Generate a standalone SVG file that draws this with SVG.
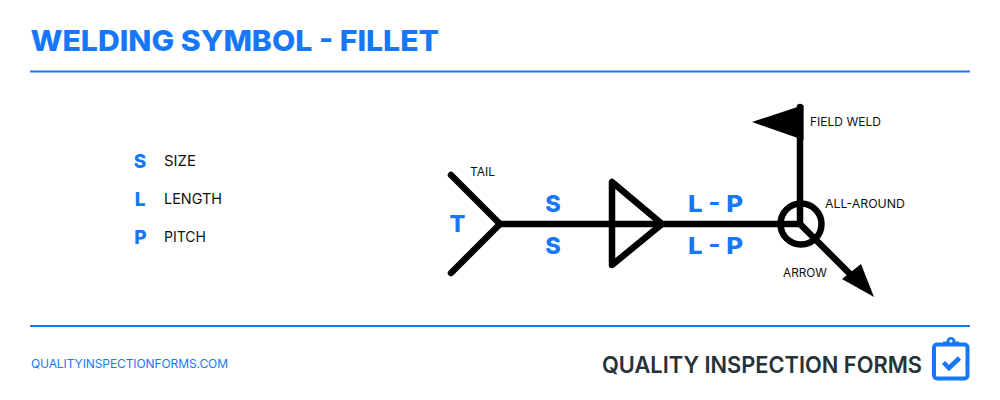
<svg xmlns="http://www.w3.org/2000/svg" width="1000" height="400" viewBox="0 0 1000 400">
<style>
text{font-family:Inter,Roboto,"Liberation Sans",sans-serif}
.rule{stroke:#1777f9;stroke-width:2;fill:none}
.sym{stroke:#000;stroke-width:6.500;fill:none;stroke-linecap:round;stroke-linejoin:round}
.val{fill:#1777f9;font-weight:800;font-size:23.500px;text-anchor:middle}
.key{fill:#1777f9;font-weight:800;font-size:19px;text-anchor:middle}
.desc{fill:#111;font-size:14px}
.lab{fill:#111;font-size:12px}
</style>
<rect width="1000" height="400" fill="#fff"/>
<g id="header">
<text x="30.500" y="50.500" font-size="29" font-weight="800" fill="#1777f9" textLength="408.500" lengthAdjust="spacingAndGlyphs">WELDING SYMBOL - FILLET</text>
<line class="rule" x1="30" y1="71.500" x2="970" y2="71.500"/>
</g>
<g id="legend">
<text class="key" x="140" y="168">S</text><text class="desc" x="164" y="166" textLength="32" lengthAdjust="spacingAndGlyphs">SIZE</text>
<text class="key" x="140" y="206">L</text><text class="desc" x="164" y="204" textLength="58" lengthAdjust="spacingAndGlyphs">LENGTH</text>
<text class="key" x="140.500" y="244">P</text><text class="desc" x="164" y="242" textLength="42" lengthAdjust="spacingAndGlyphs">PITCH</text>
</g>
<g id="connectors">
<path class="sym" d="M451 175L500 224L451 273"/>
<path class="sym" d="M500 224H800V107"/>
<path class="sym" d="M800 224L852 276"/>
</g>
<g id="fillet"><path class="sym" d="M612 182V265L662 224Z"/></g>
<g id="flag"><polygon points="803.500,105 752,122 803.500,140" fill="#000"/></g>
<g id="all-around"><circle class="sym" cx="801" cy="224" r="20.500"/></g>
<g id="arrowhead"><polygon points="874,297 842,279 861,264" fill="#000"/></g>
<g id="labels">
<text class="lab" x="470" y="175.500" textLength="25" lengthAdjust="spacingAndGlyphs">TAIL</text>
<text class="lab" x="810" y="126" textLength="71" lengthAdjust="spacingAndGlyphs">FIELD WELD</text>
<text class="lab" x="825" y="207.500" textLength="80" lengthAdjust="spacingAndGlyphs">ALL-AROUND</text>
<text class="lab" x="783" y="276.500" textLength="44" lengthAdjust="spacingAndGlyphs">ARROW</text>
<text class="val" x="457.500" y="232">T</text>
<text class="val" x="553" y="212">S</text>
<text class="val" x="553" y="254">S</text>
<text class="val" x="715.500" y="212" textLength="55" lengthAdjust="spacingAndGlyphs">L - P</text>
<text class="val" x="715.500" y="254" textLength="55" lengthAdjust="spacingAndGlyphs">L - P</text>
</g>
<g id="footer">
<line class="rule" x1="30" y1="326" x2="970" y2="326"/>
<text x="31" y="367.500" font-size="12" fill="#1777f9" textLength="197" lengthAdjust="spacing">QUALITYINSPECTIONFORMS.COM</text>
<text x="602" y="373" font-size="22.500" font-weight="600" fill="#263238" textLength="320" lengthAdjust="spacingAndGlyphs">QUALITY INSPECTION FORMS</text>
</g>
<g id="logo">
<rect x="934" y="344.500" width="33.500" height="34" rx="3" fill="none" stroke="#1777f9" stroke-width="4"/>
<path d="M943 345V341.500H946.500A4.500 4.500 0 0 1 955.500 341.500H959V345Z" fill="#1777f9"/>
<circle cx="951" cy="341" r="1.600" fill="#fff"/>
<path d="M943.500 362.500L949 368L959.500 358" fill="none" stroke="#1777f9" stroke-width="4.500"/>
</g>
</svg>
